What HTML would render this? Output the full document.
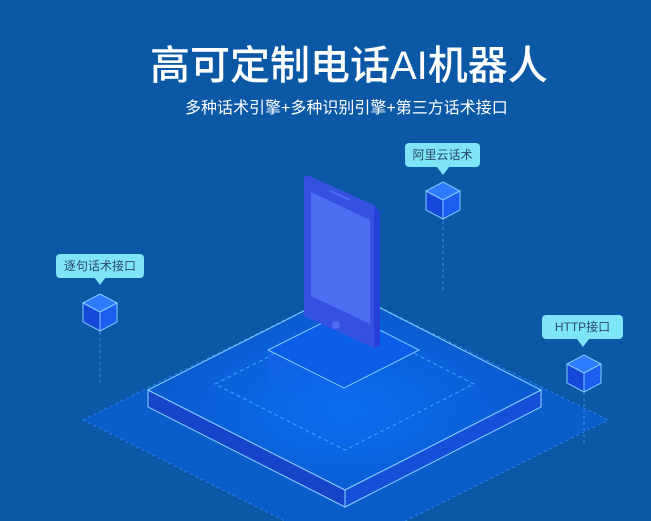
<!DOCTYPE html>
<html><head><meta charset="utf-8"><style>
html,body{margin:0;padding:0;width:651px;height:521px;overflow:hidden;background:#0a58a6;font-family:"Liberation Sans","Noto Sans CJK SC",sans-serif;position:relative}
.t{position:absolute;color:#fff;white-space:nowrap}
.lb{position:absolute;background:#7ee4f7;border-radius:4px;color:#2a4a6a;font-size:12px;text-align:center;line-height:24px}
</style></head><body>
<svg width="651" height="521" style="position:absolute;left:0;top:0">
<defs>
<radialGradient id="g" cx="0.5" cy="0.6" r="0.6"><stop offset="0" stop-color="#0b6df0"/><stop offset="1" stop-color="#0a58c8"/></radialGradient>
<linearGradient id="ph" x1="0" y1="0" x2="0" y2="1"><stop offset="0" stop-color="#2c62ff" stop-opacity="0.6"/><stop offset="1" stop-color="#0b66ee" stop-opacity="0"/></linearGradient>
</defs>
<polygon points="83,420 345,290 608,420 345,551" fill="#0a60d6" opacity="0.8"/>
<polygon points="83,420 345,290 608,420 345,551" fill="none" stroke="#3aa0ff" stroke-dasharray="3,3" opacity="0.6"/>
<polygon points="148,390 345,490 345,507 148,407" fill="#1744c8" stroke="#8ad0ff" stroke-width="1"/>
<polygon points="345,490 541,390 541,407 345,507" fill="#1550d8" stroke="#8ad0ff" stroke-width="1"/>
<polygon points="148,390 345,290 541,390 345,490" fill="url(#g)" stroke="#8ad0ff" stroke-width="1"/>
<polygon points="215,384 345,318 474,384 345,450" fill="none" stroke="#3aa8ff" stroke-dasharray="4,3"/>
<polygon points="268,350 344,312 419,350 344,388 344,420 268,382" fill="url(#ph)"/>
<polygon points="268,350 344,312 419,350 344,388" fill="#0b5ee8" stroke="#7fc8ff" stroke-width="1"/>
<polygon points="307,175 374,205 380,212 380,346 374,348 307,313" fill="#2540d8"/>
<polygon points="304,177 307,175 374,205 374,348 304,316" fill="#3551e0"/>
<polygon points="311,192 370,220 370,324 311,296" fill="#4b6ef2"/>
<line x1="330" y1="191" x2="350" y2="200" stroke="#4b6ef2" stroke-width="2"/>
<ellipse cx="336" cy="325" rx="4" ry="4" fill="#4b6ef2"/>
<line x1="100" y1="332" x2="100" y2="383" stroke="#3a8ae0" stroke-dasharray="3,3"/>
<line x1="443" y1="221" x2="443" y2="290" stroke="#3a8ae0" stroke-dasharray="3,3"/>
<line x1="584" y1="392" x2="584" y2="446" stroke="#3a8ae0" stroke-dasharray="3,3"/>
<g id="c1">
<polygon points="100,294 117,303 100,312 83,303" fill="#2e7cff" stroke="#7fc8ff"/>
<polygon points="83,303 100,312 100,331 83,322" fill="#1548d8" stroke="#7fc8ff"/>
<polygon points="100,312 117,303 117,322 100,331" fill="#1c5ff0" stroke="#7fc8ff"/>
</g>
<use href="#c1" transform="translate(343,-112)"/>
<use href="#c1" transform="translate(484,61)"/>
<polygon points="94,277 106,277 100,285" fill="#7ee4f7"/>
<polygon points="437,167 449,167 443,175" fill="#7ee4f7"/>
<polygon points="577,339 589,339 583,347" fill="#7ee4f7"/>
</svg>
<div class="t" style="left:150px;top:42px;font-size:40px;font-weight:500;line-height:48px">高可定制电话AI机器人</div>
<div class="t" style="left:185px;top:99px;font-size:16px;line-height:20px">多种话术引擎+多种识别引擎+第三方话术接口</div>
<div class="lb" style="left:56px;top:254px;width:88px;height:24px">逐句话术接口</div>
<div class="lb" style="left:405px;top:143px;width:75px;height:24px">阿里云话术</div>
<div class="lb" style="left:542px;top:315px;width:81px;height:24px">HTTP接口</div>
</body></html>
